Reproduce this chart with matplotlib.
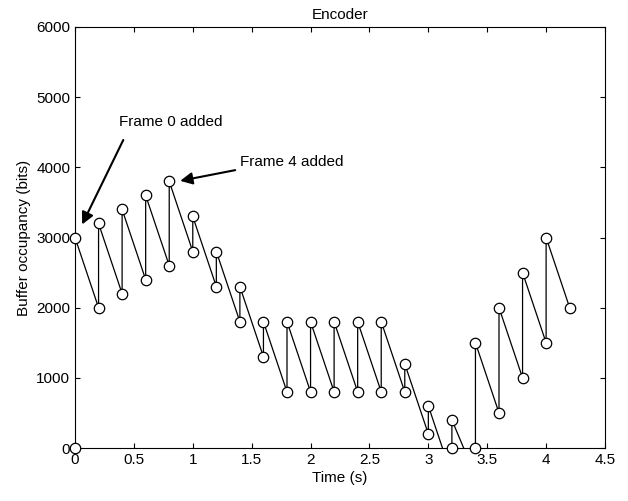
import numpy as np
import matplotlib.pyplot as plt

plt.rcParams['font.family'] = ['Liberation Sans', 'DejaVu Sans']

# sawtooth of buffer occupancy: (time, value) pairs
times = [0, 0, 0.2, 0.2, 0.4, 0.4, 0.6, 0.6, 0.8, 0.8, 1.0, 1.0, 1.2, 1.2, 1.4, 1.4,
         1.6, 1.6, 1.8, 1.8, 2.0, 2.0, 2.2, 2.2, 2.4, 2.4, 2.6, 2.6, 2.8, 2.8,
         3.0, 3.0, 3.2, 3.2, 3.4, 3.4, 3.6, 3.6, 3.8, 3.8, 4.0, 4.0, 4.2]
occupancy = [0, 3000, 2000, 3200, 2200, 3400, 2400, 3600, 2600, 3800, 2800, 3300,
             2300, 2800, 1800, 2300, 1300, 1800, 800, 1800, 800, 1800, 800, 1800,
             800, 1800, 800, 1800, 800, 1200, 200, 600, -400, 400, -400, 1500,
             500, 2000, 1000, 2500, 1500, 3000, 2000]

fig = plt.figure(figsize=(6.28, 5.01), dpi=100)
ax = fig.add_axes([75/628, 1 - 448/501, 530/628, 421/501])
ax.plot(times, occupancy, color='black', lw=0.9)
ax.plot(times, np.clip(occupancy, 0, None), 'o', mfc='white', mec='black',
        ms=7.5, mew=0.9, clip_on=False, zorder=3)

ax.set_xlim(0, 4.5)
ax.set_ylim(0, 6000)
ax.set_xticks(np.arange(0, 4.51, 0.5))
ax.set_xticklabels(['0', '0.5', '1', '1.5', '2', '2.5', '3', '3.5', '4', '4.5'])
ax.tick_params(direction='in', top=True, right=True, labelsize=11)
ax.set_xlabel('Time (s)', fontsize=11, labelpad=3)
ax.set_ylabel('Buffer occupancy (bits)', fontsize=11)
ax.set_title('Encoder', fontsize=11, pad=6)

arrow = dict(arrowstyle='-|>', color='black', lw=1.5, mutation_scale=18, shrinkA=0)
ax.text(0.37, 4650, 'Frame 0 added', fontsize=11, va='center')
ax.annotate('', xy=(0.05, 3150), xytext=(0.41, 4390), arrowprops=arrow)
ax.text(1.4, 4080, 'Frame 4 added', fontsize=11, va='center')
ax.annotate('', xy=(0.87, 3800), xytext=(1.36, 3960), arrowprops=arrow)

fig.savefig('out.png', dpi=100)
